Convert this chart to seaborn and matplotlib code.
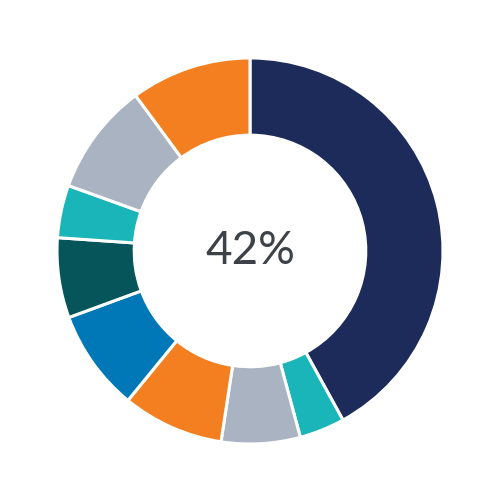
import matplotlib
matplotlib.use('Agg')
import matplotlib.pyplot as plt
import seaborn as sns

# Slice shares, clockwise from 12 o'clock
segments = ['A', 'B', 'C', 'D', 'E', 'F', 'G', 'H', 'I']
shares = [42.0, 3.8, 6.6, 8.5, 8.5, 6.7, 4.4, 9.4, 10.1]
slice_colors = ['#1d2b5a', '#1ab5b8', '#a9b3c1', '#f37f21', '#0077b6',
                '#05555a', '#1ab5b8', '#a9b3c1', '#f37f21']
center_label = '42%'

sns.set_theme(style='white')
plt.rcParams['font.family'] = ['Lato', 'DejaVu Sans']

fig = plt.figure(figsize=(5, 5), dpi=100)
ax = fig.add_axes([0, 0, 1, 1])

ax.pie(shares, colors=sns.color_palette(slice_colors), startangle=90,
       counterclock=False, radius=1.0,
       wedgeprops=dict(width=0.4, edgecolor='white', linewidth=2.2))

ax.text(0, 0, center_label, ha='center', va='center',
        fontsize=33, color='#3d4248')

r = 250 / 193
ax.set_xlim(-r, r)
ax.set_ylim(-r + 0.005, r + 0.005)
ax.set_aspect('equal')
ax.axis('off')

fig.savefig('out.png', dpi=100, facecolor='white')
